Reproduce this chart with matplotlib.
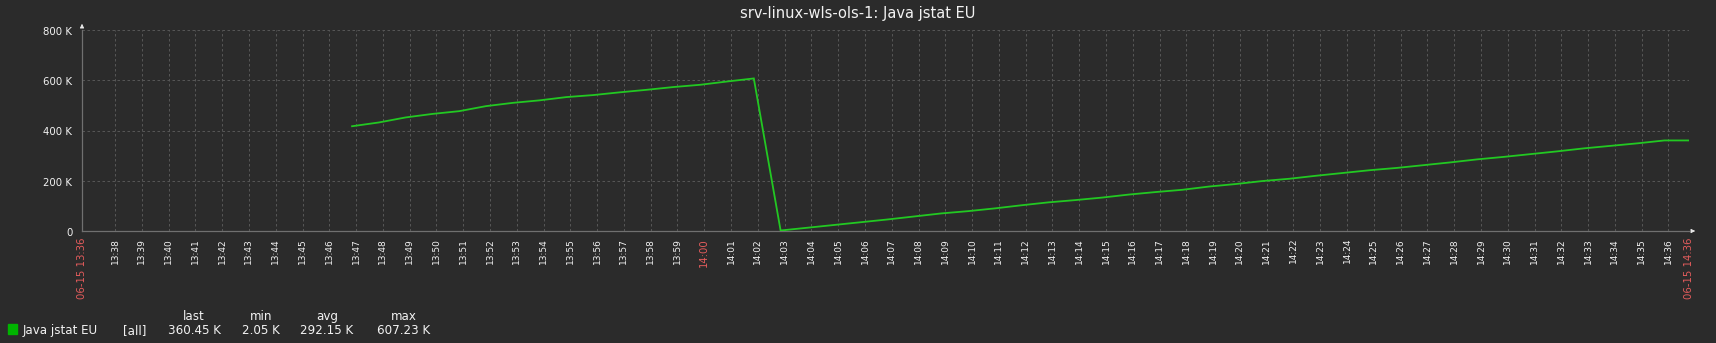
import matplotlib
matplotlib.use("Agg")
import matplotlib.pyplot as plt
import matplotlib.dates as mdates
from matplotlib.patches import Rectangle
import pandas as pd

# ---------------- data ----------------
title = "srv-linux-wls-ols-1: Java jstat EU"
series_name = "Java jstat EU"
date_str = "2024-06-15"
range_start = "13:36:46"
range_end = "14:36:46"

sample_times = [
    "13:46:51", "13:47:51", "13:48:51", "13:49:51", "13:50:51", "13:51:51",
    "13:52:51", "13:53:51", "13:54:51", "13:55:51", "13:56:51", "13:57:51",
    "13:58:51", "13:59:51", "14:00:51", "14:01:51",
    "14:02:51", "14:03:51", "14:04:51", "14:05:51", "14:06:51", "14:07:51",
    "14:08:51", "14:09:51", "14:10:51", "14:11:51", "14:12:51", "14:13:51",
    "14:14:51", "14:15:51", "14:16:51", "14:17:51", "14:18:51", "14:19:51",
    "14:20:51", "14:21:51", "14:22:51", "14:23:51", "14:24:51", "14:25:51",
    "14:26:51", "14:27:51", "14:28:51", "14:29:51", "14:30:51", "14:31:51",
    "14:32:51", "14:33:51", "14:34:51", "14:35:51", "14:36:45",
]
values_k = [
    417, 432, 452, 466, 477, 497, 510, 520, 533, 541, 552, 562, 573, 582, 595, 607.23,
    2.05, 13, 24, 35, 46, 58, 70, 79, 90, 102.5, 114, 123, 133, 145, 155, 164,
    177, 187, 199, 208, 220, 231, 242, 251, 262, 273, 285, 295, 306, 317, 329,
    339, 349, 360.45, 360.45,
]

y_ticks = [0, 200, 400, 600, 800]
y_tick_labels = ["0", "200 K", "400 K", "600 K", "800 K"]
minute_tick_first = "13:38"
minute_tick_last = "14:36"
edge_labels = ["06-15 13:36", "06-15 14:36"]

legend_headers = ["last", "min", "avg", "max"]
legend_values = ["360.45 K", "2.05 K", "292.15 K", "607.23 K"]
legend_func = "[all]"

# ---------------- style ----------------
BG = "#2b2b2b"
TXT = "#f2f2f2"
RED = "#e45c5c"
GRID = "#555555"
AXIS = "#707070"
LINE = "#22c822"
SQUARE = "#00b400"

W, H = 1716, 344
fig = plt.figure(figsize=(W / 100, 3.4399), dpi=100, facecolor=BG)
L, R, T, B = 82, 1689, 31, 232
ax = fig.add_axes([L / W, 1 - B / H, (R - L) / W, (B - T) / H])
ax.set_facecolor(BG)

t = pd.to_datetime([f"{date_str} {s}" for s in sample_times])
ax.plot(t, values_k, color=LINE, lw=1.3, solid_joinstyle="miter", zorder=3)

x0 = pd.Timestamp(f"{date_str} {range_start}")
x1 = pd.Timestamp(f"{date_str} {range_end}")
ax.set_xlim(x0, x1)
ax.set_ylim(0, 800)

# ticks
minute_ticks = list(pd.date_range(f"{date_str} {minute_tick_first}",
                                  f"{date_str} {minute_tick_last}", freq="min"))
ticks = [x0] + minute_ticks + [x1]
labels = [edge_labels[0]] + [m.strftime("%H:%M") for m in minute_ticks] + [edge_labels[1]]
ax.set_xticks(ticks)
ax.set_xticklabels(labels, rotation=90, fontsize=6.5, color=TXT, family="DejaVu Sans")
for tick, lab in zip(ticks, ax.get_xticklabels()):
    if tick in (x0, x1) or (tick.minute == 0):
        lab.set_color(RED)
        lab.set_fontsize(7.25)
ax.tick_params(axis="x", length=0, pad=4.3)

ax.set_yticks(y_ticks)
ax.set_yticklabels(y_tick_labels, fontsize=7.3, color=TXT)
ax.tick_params(axis="y", length=0, pad=7)

ax.grid(True, color=GRID, lw=0.72, linestyle=(0, (2.5, 2.5)))
ax.set_axisbelow(True)
for s in ("top", "right"):
    ax.spines[s].set_visible(False)
for s in ("left", "bottom"):
    ax.spines[s].set_color(AXIS)
    ax.spines[s].set_linewidth(0.9)

# axis arrows
ax.annotate("", xy=(0, 1 + 9 / (B - T)), xytext=(0, 1), xycoords="axes fraction",
            arrowprops=dict(arrowstyle="-|>", color="#e8e8e8", lw=0.6, mutation_scale=6))
ax.annotate("", xy=(1 + 9 / (R - L), 0), xytext=(1, 0), xycoords="axes fraction",
            arrowprops=dict(arrowstyle="-|>", color="#e8e8e8", lw=0.6, mutation_scale=6))

# title
fig.text(0.5, 1 - 14 / H, title, ha="center", va="center", fontsize=10.5, color=TXT)

# legend
fig.patches.append(Rectangle((8 / W, 1 - 335 / H), 9 / W, 10 / H,
                             transform=fig.transFigure, color=SQUARE))
row_y = 1 - 331 / H
head_y = 1 - 317 / H
fig.text(23 / W, row_y, series_name, ha="left", va="center", fontsize=8.6, color=TXT)
fig.text(123 / W, row_y, legend_func, ha="left", va="center", fontsize=8.6, color=TXT)
centers = [194, 261, 327, 404]
for cx, hd, val in zip(centers, legend_headers, legend_values):
    fig.text(cx / W, head_y, hd, ha="center", va="center", fontsize=8.6, color=TXT)
    fig.text(cx / W, row_y, val, ha="center", va="center", fontsize=8.6, color=TXT)

fig.savefig("out.png", dpi=100, facecolor=BG)
